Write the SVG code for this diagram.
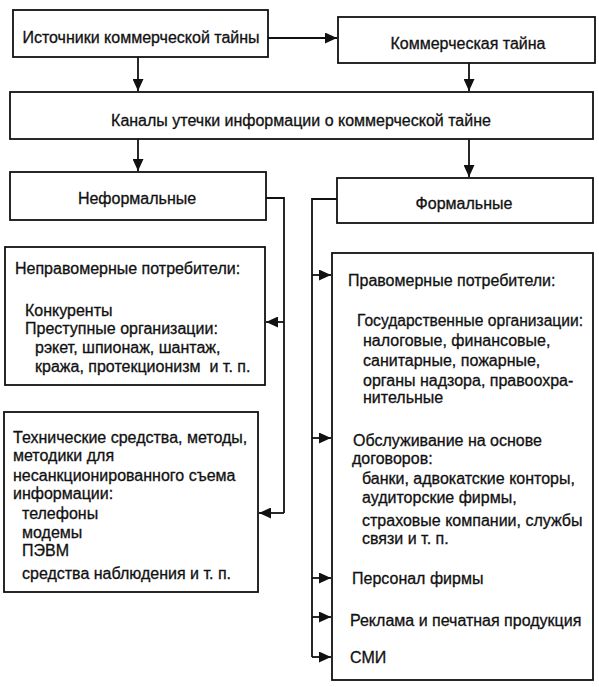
<svg xmlns="http://www.w3.org/2000/svg" width="599" height="687" viewBox="0 0 599 687">
<style>
.box{fill:#fff;stroke:#111;stroke-width:1.8}
.t{font-family:"Liberation Sans",Arial,sans-serif;font-size:16px;fill:#111;stroke:#111;stroke-width:0.3;white-space:pre}
.c{text-anchor:middle}
.ln{fill:none;stroke:#111;stroke-width:1.8}
</style>
<defs>
<marker id="ah" markerUnits="userSpaceOnUse" markerWidth="13" markerHeight="11" refX="12" refY="5.5" orient="auto">
<path d="M0,0 L12,5.5 L0,11 Z" fill="#111"/>
</marker>
</defs>
<rect width="599" height="687" fill="#fff"/>
<g id="connectors">
<line class="ln" x1="268" y1="38" x2="337" y2="38" marker-end="url(#ah)"/>
<line class="ln" x1="138" y1="57" x2="138" y2="91" marker-end="url(#ah)"/>
<line class="ln" x1="469" y1="63" x2="469" y2="91" marker-end="url(#ah)"/>
<line class="ln" x1="138" y1="139" x2="138" y2="171" marker-end="url(#ah)"/>
<line class="ln" x1="469" y1="139" x2="469" y2="177" marker-end="url(#ah)"/>
<path class="ln" d="M266,198 H284 V513"/>
<line class="ln" x1="284" y1="322" x2="266" y2="322" marker-end="url(#ah)"/>
<line class="ln" x1="284" y1="513" x2="259" y2="513" marker-end="url(#ah)"/>
<path class="ln" d="M337,199 H312 V657"/>
<line class="ln" x1="312" y1="275" x2="331" y2="275" marker-end="url(#ah)"/>
<line class="ln" x1="312" y1="438" x2="331" y2="438" marker-end="url(#ah)"/>
<line class="ln" x1="312" y1="578" x2="331" y2="578" marker-end="url(#ah)"/>
<line class="ln" x1="312" y1="617" x2="331" y2="617" marker-end="url(#ah)"/>
<line class="ln" x1="312" y1="657" x2="331" y2="657" marker-end="url(#ah)"/>
</g>
<g id="sources">
<rect class="box" x="13" y="10" width="255" height="47"/>
<text class="t c" x="141" y="43">Источники коммерческой тайны</text>
</g>
<g id="secret">
<rect class="box" x="338" y="17" width="257" height="46"/>
<text class="t c" x="468" y="49">Коммерческая тайна</text>
</g>
<g id="channels">
<rect class="box" x="10" y="92" width="583" height="47"/>
<text class="t c" x="301" y="126">Каналы утечки информации о коммерческой тайне</text>
</g>
<g id="informal">
<rect class="box" x="10" y="172" width="256" height="48"/>
<text class="t c" x="137" y="204">Неформальные</text>
</g>
<g id="formal">
<rect class="box" x="337" y="178" width="256" height="45"/>
<text class="t c" x="464" y="209">Формальные</text>
</g>
<g id="illegal">
<rect class="box" x="5" y="247" width="260" height="138"/>
<text class="t" x="15" y="274">Неправомерные потребители:</text>
<text class="t" x="25" y="316">Конкуренты</text>
<text class="t" x="25" y="334">Преступные организации:</text>
<text class="t" x="35" y="353">рэкет, шпионаж, шантаж,</text>
<text class="t" x="35" y="372">кража, протекционизм  и т. п.</text>
</g>
<g id="technical">
<rect class="box" x="4" y="412" width="254" height="180"/>
<text class="t" x="13" y="443">Технические средства, методы,</text>
<text class="t" x="13" y="461">методики для</text>
<text class="t" x="13" y="481">несанкционированного съема</text>
<text class="t" x="13" y="499">информации:</text>
<text class="t" x="22" y="519">телефоны</text>
<text class="t" x="22" y="538">модемы</text>
<text class="t" x="22" y="556">ПЭВМ</text>
<text class="t" x="22" y="579">средства наблюдения и т. п.</text>
</g>
<g id="legal">
<rect class="box" x="332" y="253" width="261" height="427"/>
<text class="t" x="348" y="286">Правомерные потребители:</text>
<text class="t" x="357" y="326" textLength="226" lengthAdjust="spacingAndGlyphs">Государственные организации:</text>
<text class="t" x="363" y="346">налоговые, финансовые,</text>
<text class="t" x="363" y="366">санитарные, пожарные,</text>
<text class="t" x="363" y="386">органы надзора, правоохра-</text>
<text class="t" x="363" y="403">нительные</text>
<text class="t" x="353" y="446">Обслуживание на основе</text>
<text class="t" x="352" y="464">договоров:</text>
<text class="t" x="362" y="484">банки, адвокатские конторы,</text>
<text class="t" x="362" y="503">аудиторские фирмы,</text>
<text class="t" x="362" y="526">страховые компании, службы</text>
<text class="t" x="362" y="544">связи и т. п.</text>
<text class="t" x="352" y="584">Персонал фирмы</text>
<text class="t" x="350" y="626">Реклама и печатная продукция</text>
<text class="t" x="350" y="663">СМИ</text>
</g>
</svg>
